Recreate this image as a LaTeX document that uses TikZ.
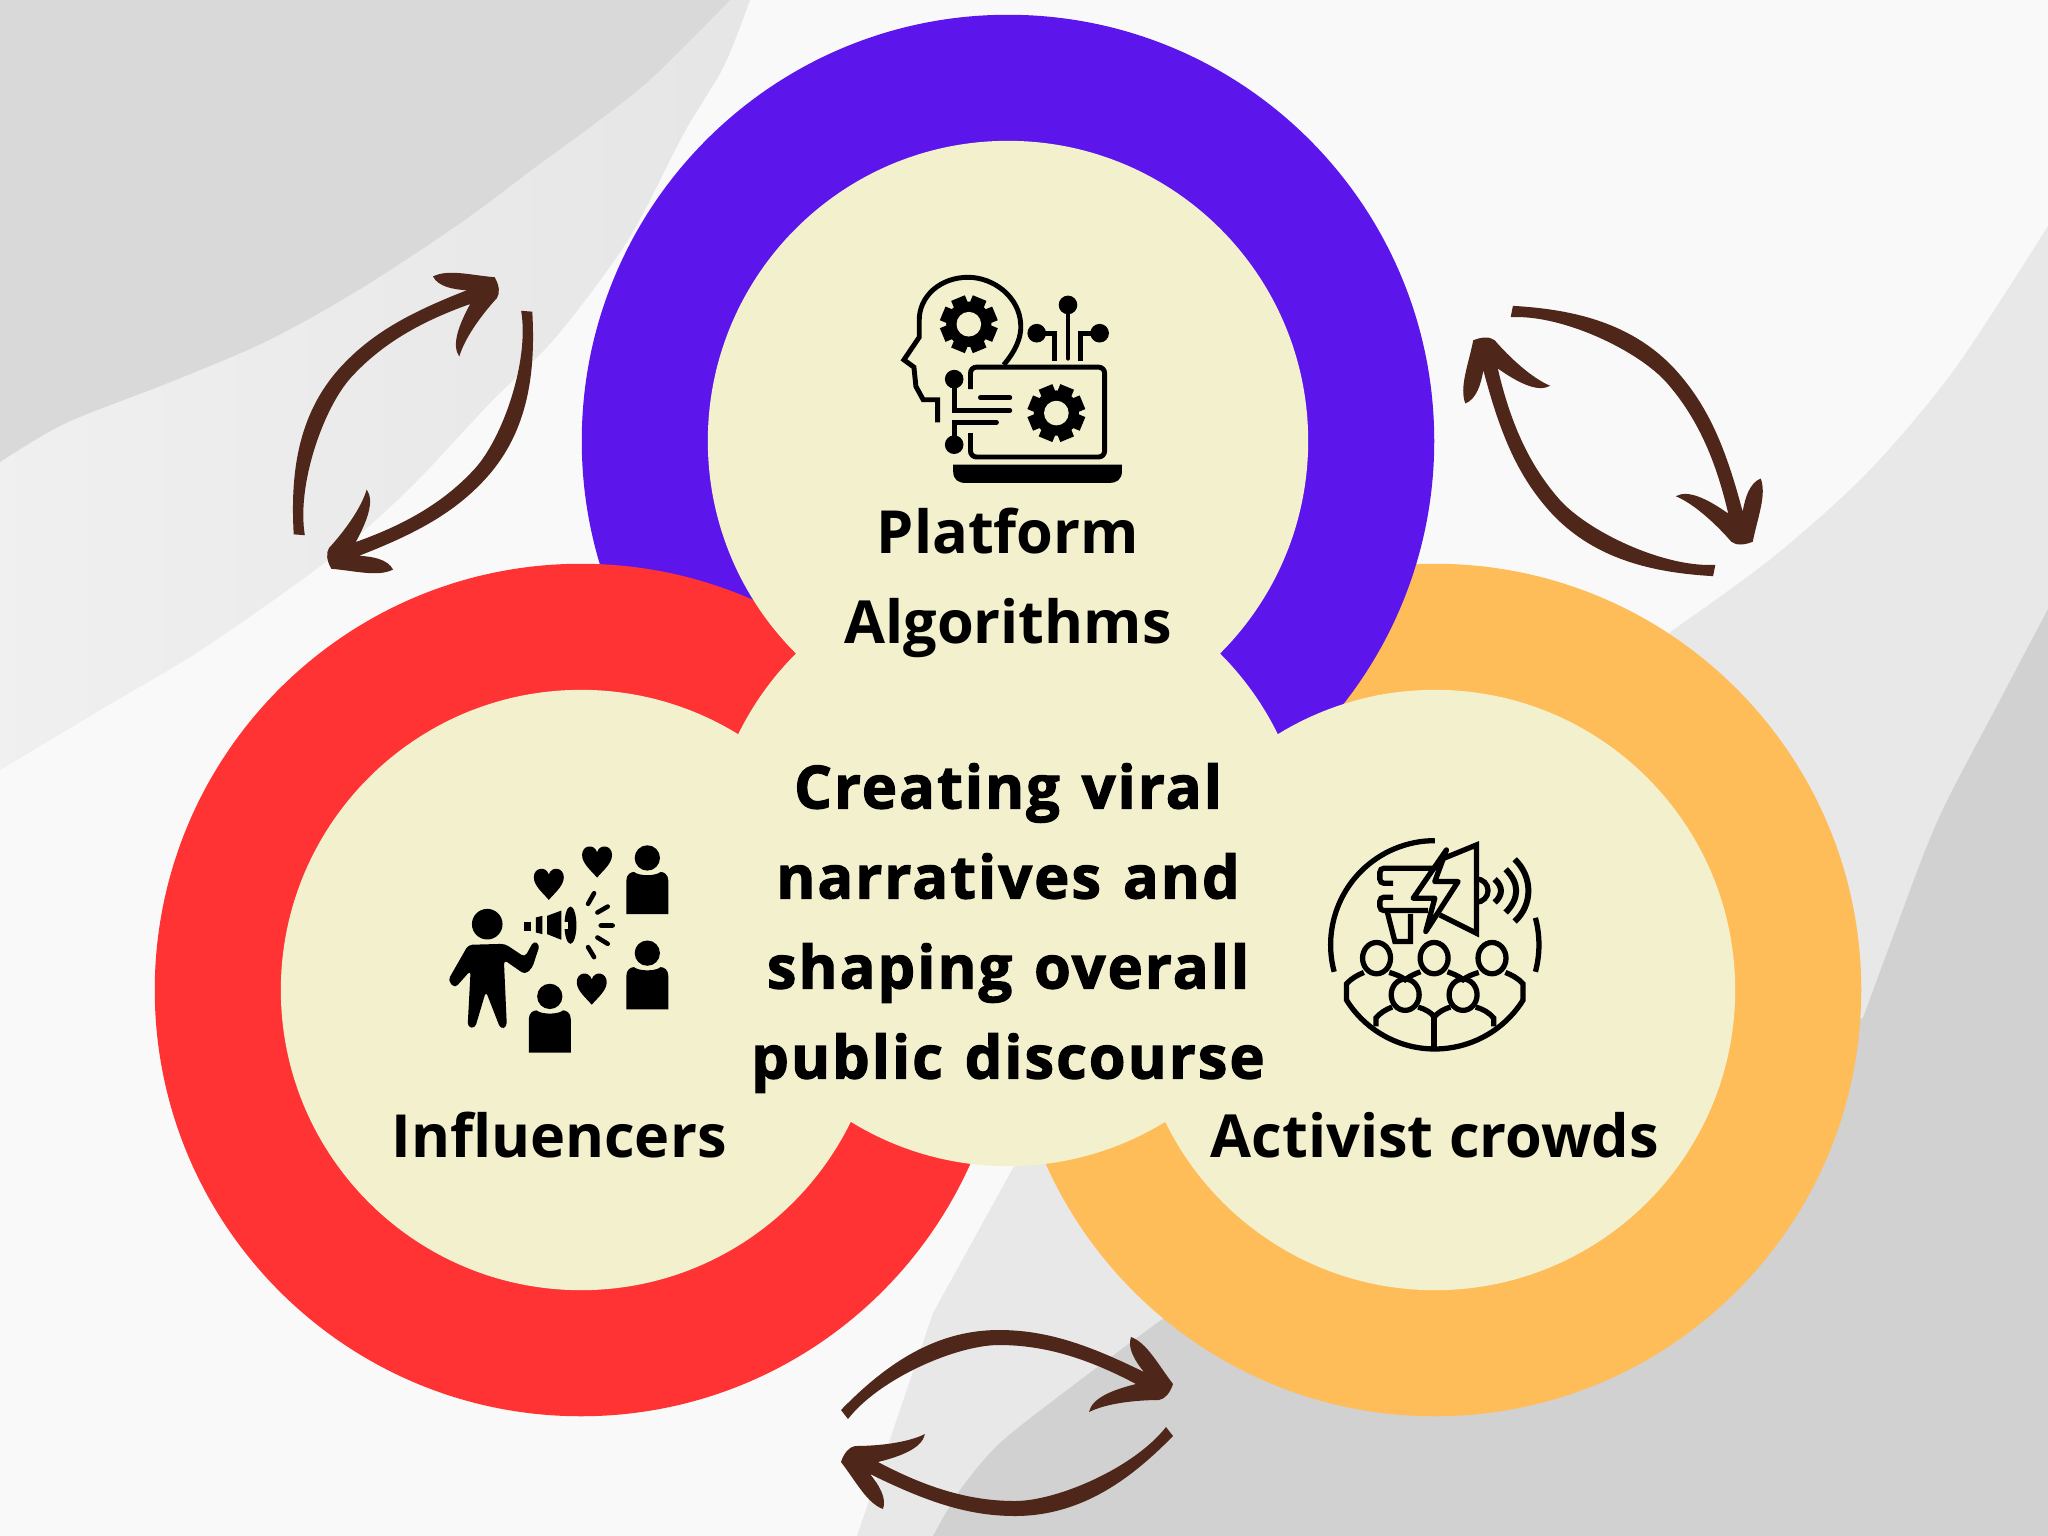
\documentclass[tikz,border=0pt]{standalone}
\usepackage{fontspec}
\setmainfont{Open Sans}[BoldFont={Open Sans Bold}]
\newfontfamily\corefont{Open Sans Bold}[WordSpace=1.25,FakeBold=2,LetterSpace=3.5]
\definecolor{paper}{HTML}{F9F9F9}
\definecolor{creamfill}{HTML}{F3F0CE}
\definecolor{purplering}{HTML}{5C16EC}
\definecolor{redring}{HTML}{FF3333}
\definecolor{orangering}{HTML}{FFBD59}
\definecolor{swirlbrown}{HTML}{4E271A}
\newcommand\swirlhalf{
  \fill[swirlbrown] (-166,-13) .. controls (-125,-55) and (-75,-93) .. (-8,-93) .. controls (40,-93) and (82,-78) .. (137,-51)
    .. controls (128,-62) and (120,-75) .. (124,-86) .. controls (140,-80) and (150,-60) .. (166,-39)
    .. controls (163,-30) and (158,-24) .. (152,-23) .. controls (130,-23) and (100,-20) .. (82,-11)
    .. controls (85,-25) and (105,-33) .. (129,-39) .. controls (80,-65) and (37,-78) .. (-8,-78)
    .. controls (-50,-78) and (-127,-45) .. (-159,-4) -- cycle;
}
\tikzset{
  disc/.style={shape=circle,draw=none,inner sep=0,outer sep=0},
  ring/.style={disc,minimum size=8.52cm},
  cream/.style={disc,fill=creamfill,minimum size=6cm},
  title/.style={align=center,font=\fontsize{16.9}{25.6}\selectfont\bfseries},
  coretitle/.style={align=center,font=\fontsize{16.9}{25.6}\selectfont\corefont},
  icon/.style={x=0.00333cm,y=-0.00333cm},
  swirl/.pic={
    \swirlhalf
    \begin{scope}[rotate=180]
    \swirlhalf
    \end{scope}
  },
  cog/.pic={
    \fill (0,0) circle (68);
    \foreach \a in {22.5,67.5,...,337.5} \draw[line width=4.2pt] (\a:55) -- (\a:85);
    \fill[creamfill] (0,0) circle (37);
  },
  heart/.pic={
    \fill (0,48) .. controls (-20,25) and (-45,5) .. (-45,-20) .. controls (-45,-50) and (-8,-55) .. (0,-28)
      .. controls (8,-55) and (45,-50) .. (45,-20) .. controls (45,5) and (20,25) .. (0,48) -- cycle;
  },
  bust/.pic={
    \fill (0,0) circle (38);
    \fill (-63,169) -- (-63,68) .. controls (-63,50) and (-50,42) .. (-40,42) .. controls (-25,55) and (25,55) .. (40,42)
      .. controls (50,42) and (63,50) .. (63,68) -- (63,169) -- cycle;
  },
  crowdhead/.pic={
    \draw[line width=1.5pt] (0,0) ellipse (42 and 47);
  }
}
\begin{document}
\begin{tikzpicture}[x=0.01cm,y=-0.01cm]
\useasboundingbox (0,0) rectangle (2048,1536);
\fill[paper] (0,0) rectangle (2048,1536);
\shade[left color=black!6,right color=black!10] plot[smooth] coordinates {(750,0)(724,66)(684,133)(628,240)(556,337)(490,403)(408,490)(327,561)(204,648)(102,709)(0,770)} -- (0,0) -- cycle;
\fill[black!15] plot[smooth] coordinates {(730,0)(653,77)(597,122)(541,163)(459,224)(357,291)(265,342)(168,383)(66,423)(0,462)} -- (0,0) -- cycle;
\fill[black!9] plot[smooth] coordinates {(2048,226)(1954,370)(1867,473)(1772,558)(1673,630)} -- (1013,1168) -- (933,1313) -- (857,1536) -- (2048,1536) -- cycle;
\fill[black!18] plot[smooth] coordinates {(2048,609)(1999,702)(1937,822)(1888,950)(1863,1018)} -- plot[smooth] coordinates {(1161,1320)(1071,1387)(1000,1443)(960,1490)(933,1536)} -- (2048,1536) -- cycle;

\node[ring,fill=orangering] (outerright) at (1435,990) {};
\node[ring,fill=purplering] (outertop) at (1008,441) {};
\node[ring,fill=redring] (outerleft) at (581,990) {};
\node[cream] (innertop) at (1008,441) {};
\node[cream] (innerleft) at (581,990) {};
\node[cream] (innerright) at (1435,990) {};
\node[cream] (core) at (1008,866) {};

\node[title] (platform) at (1008,583) {Platform\\Algorithms};
\node[title] (influencers) at (559,1135) {Influencers};
\node[title] (activists) at (1435,1135) {Activist crowds};
\node[coretitle] (narrative) at (1008,928) {Creating viral\\narratives and\\shaping overall\\public discourse};

\pic[rotate=47.5,scale=.98] at (413,423) {swirl};
\pic[rotate=-49,scale=1.01] at (1613,441) {swirl};
\pic at (1007,1423) {swirl};

\begin{scope}[shift={(860,250)},icon,line width=1.4pt]
\draw (432,345) .. controls (470,300) and (485,260) .. (483,225) .. controls (480,140) and (400,82) .. (325,82)
  .. controls (240,82) and (178,140) .. (178,210) -- (178,262)
  -- (132,330) -- (162,352) -- (168,410) -- (190,450) -- (233,450) -- (233,518);
\pic at (327,223) {cog};
\pic at (590,490) {cog};
\draw[rounded corners=.6mm] (332,418) -- (332,352) -- (735,352) -- (735,622) -- (332,622) -- (332,550);
\fill (280,645) -- (787,645) -- (787,665) .. controls (787,690) and (770,700) .. (750,700) -- (318,700) .. controls (295,700) and (280,690) .. (280,665) -- cycle;
\fill (625,165) circle (28) (531,250) circle (28) (720,250) circle (28) (283,388) circle (28) (283,585) circle (28);
\draw[line cap=round] (625,165) -- (625,325);
\draw (531,250) -- (585,250) -- (585,335);
\draw (720,250) -- (662,250) -- (662,335);
\draw[line cap=round] (283,388) -- (283,482) -- (450,482);
\draw[line cap=round] (283,585) -- (283,518) -- (410,518);
\draw[line cap=round] (362,444) -- (450,444);
\end{scope}

\begin{scope}[shift={(430,820)},icon]
\fill (172,313) circle (46);
\fill[rounded corners=.4mm] (115,375) -- (54,482) -- (75,505) -- (122,452) -- (113,622) -- (135,626) -- (168,515) -- (212,628) -- (231,622) -- (222,420) -- (285,464) -- (307,445) -- (330,375) -- (312,363) -- (285,412) -- (225,372) -- cycle;
\fill (282,305) rectangle (302,332);
\fill (318,293) -- (338,288) -- (338,343) -- (318,338) -- cycle;
\fill (352,288) -- (395,272) -- (395,360) -- (352,343) -- cycle;
\fill (422,316) ellipse (18 and 56);
\fill[creamfill] (403,305) rectangle (415,328);
\draw[line width=1.3pt,line cap=round] (475,252) -- (493,220) (503,278) -- (534,260) (513,317) -- (549,317) (503,353) -- (534,372) (475,382) -- (493,412);
\pic at (357,192) {heart};
\pic at (502,125) {heart};
\pic at (486,507) {heart};
\pic at (653,114) {bust};
\pic at (653,400) {bust};
\pic at (360,530) {bust};
\end{scope}

\begin{scope}[shift={(1300,820)},icon,line width=1.5pt]
\draw (405,375) ++(165:313) arc (165:270:313);
\draw (405,375) ++(-15:313) arc (-15:15:313);
\draw (405,375) ++(32:313) arc (32:148:313);
\draw[rounded corners=.4mm] (405,145) -- (240,145) -- (240,190) -- (280,190) (280,232) -- (240,232) -- (240,272) -- (385,272);
\draw (262,275) -- (285,365) -- (332,365) -- (332,282);
\draw (420,120) -- (530,75) -- (530,340) -- (420,285);
\draw[fill=creamfill,line join=round] (440,90) -- (340,235) -- (405,235) -- (378,335) -- (475,185) -- (405,185) -- cycle;
\draw (530,177) arc (-90:90:35);
\draw[line width=1.7pt] (585,178) .. controls (610,200) and (610,225) .. (585,248);
\draw[line width=1.7pt] (618,148) .. controls (660,190) and (660,235) .. (618,278);
\draw[line width=1.7pt] (645,118) .. controls (700,170) and (700,255) .. (645,305);
\pic at (230,415) {crowdhead};
\pic at (403,415) {crowdhead};
\pic at (577,415) {crowdhead};
\pic at (316,525) {crowdhead};
\pic at (490,525) {crowdhead};
\draw (140,545) -- (140,492) .. controls (155,475) and (175,465) .. (192,458);
\draw (268,458) .. controls (285,463) and (305,470) .. (316,480) .. controls (328,470) and (345,462) .. (362,456);
\draw (443,456) .. controls (460,462) and (480,470) .. (490,480) .. controls (502,470) and (520,463) .. (537,458);
\draw (617,458) .. controls (635,465) and (655,475) .. (670,492) -- (670,545);
\draw (228,620) -- (228,595) .. controls (240,580) and (260,568) .. (277,562);
\draw (355,562) .. controls (375,568) and (395,578) .. (403,592) .. controls (415,578) and (432,568) .. (452,562);
\draw (528,562) .. controls (550,568) and (570,580) .. (582,595) -- (582,620);
\draw (403,592) -- (403,688);
\end{scope}
\end{tikzpicture}
\end{document}
